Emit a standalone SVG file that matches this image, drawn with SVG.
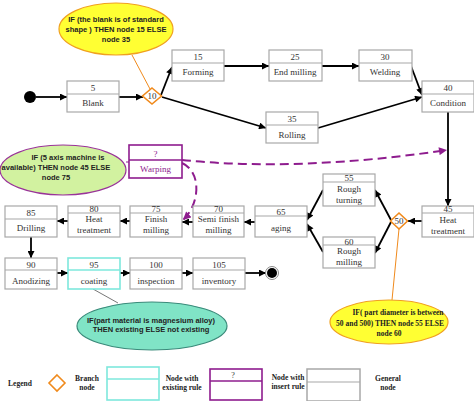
<svg xmlns="http://www.w3.org/2000/svg" width="474" height="401" viewBox="0 0 474 401">
<defs>
<marker id="ah" viewBox="0 0 10 10" refX="10" refY="5" markerWidth="8" markerHeight="7" markerUnits="userSpaceOnUse" orient="auto"><path d="M0,0 L10,5 L0,10 z" fill="#000"/></marker>
<marker id="ahp" viewBox="0 0 10 10" refX="10" refY="5" markerWidth="9" markerHeight="8" markerUnits="userSpaceOnUse" orient="auto"><path d="M0,0 L10,5 L0,10 z" fill="#8e1c8e"/></marker>
</defs>
<style>
.box{fill:#fff;stroke:#a8a8a8;stroke-width:1.2}
.div{stroke:#a8a8a8;stroke-width:1.2}
.cy{fill:#fff;stroke:#7ee8dc;stroke-width:1.6}
.cyd{stroke:#7ee8dc;stroke-width:1.6}
.pu{fill:#fff;stroke:#8e1c8e;stroke-width:1.6}
.pud{stroke:#8e1c8e;stroke-width:1.6}
.t{font-family:"Liberation Serif",serif;font-size:9px;fill:#333;text-anchor:middle}
.tp{font-family:"Liberation Serif",serif;font-size:9px;fill:#8e1c8e;text-anchor:middle}
.e{font-family:"Liberation Sans",sans-serif;font-size:7.5px;font-weight:bold;fill:#222;text-anchor:middle}
.es{font-family:"Liberation Serif",serif;font-size:7.5px;font-weight:bold;fill:#222;text-anchor:middle}
.lg{font-family:"Liberation Serif",serif;font-size:7.5px;font-weight:bold;fill:#222;text-anchor:middle}
.dia{fill:#fff;stroke:#f08a1c;stroke-width:1.6}
.c{stroke:#000;stroke-width:1.8;fill:none;marker-end:url(#ah)}
.d{stroke:#8e1c8e;stroke-width:2;fill:none;stroke-dasharray:9,5;marker-end:url(#ahp)}
</style>
<rect width="474" height="401" fill="#fff"/>

<g id="callout-lines">
<line x1="132" y1="55" x2="150" y2="89" stroke="#f08a1c" stroke-width="1"/>
<line x1="399" y1="229" x2="392" y2="300" stroke="#f08a1c" stroke-width="1"/>
<line x1="93" y1="289" x2="118" y2="303" stroke="#777" stroke-width="1"/>
<line x1="126" y1="162" x2="130" y2="162" stroke="#8e1c8e" stroke-width="1"/>
</g>

<g id="note-top">
<ellipse cx="116" cy="29" rx="57" ry="26" fill="#ffff33" stroke="#f0a020" stroke-width="1.2"/>
<text class="e" x="116" y="22">IF (the blank is of standard</text>
<text class="e" x="116" y="32">shape ) THEN node 15  ELSE</text>
<text class="e" x="116" y="42">node 35</text>
</g>
<g id="note-green">
<ellipse cx="63" cy="170" rx="63" ry="25" fill="#d2f2a0" stroke="#993399" stroke-width="1.2"/>
<text class="e" x="68" y="160">IF (5 axis machine is</text>
<text class="e" x="56" y="170">available) THEN node 45 ELSE</text>
<text class="e" x="56" y="180">node 75</text>
</g>
<g id="note-cyan">
<ellipse cx="152" cy="326" rx="75" ry="24" fill="#80e4c6" stroke="#3a8a7a" stroke-width="1.2"/>
<text class="e" x="151" y="323">IF(part material is magnesium alloy)</text>
<text class="e" x="151" y="332">THEN existing ELSE not existing</text>
</g>
<g id="note-bottom">
<ellipse cx="389" cy="322" rx="59" ry="22" fill="#ffff33" stroke="#f0a020" stroke-width="1.2"/>
<text class="es" x="398" y="315">IF( part diameter is between</text>
<text class="es" x="390" y="326">50 and 500) THEN node 55 ELSE</text>
<text class="es" x="389" y="336">node 60</text>
</g>

<g id="connectors">
<path class="c" d="M36,97 L67,97"/>
<path class="c" d="M119,97 L143,97"/>
<path class="c" d="M161,95 L172,67"/>
<path class="c" d="M162,97 L266,128"/>
<path class="c" d="M224,66 L269,66"/>
<path class="c" d="M322,66 L359,66"/>
<path class="c" d="M411,66 L422,95"/>
<path class="c" d="M318,128 L422,97"/>
<path class="c" d="M448,112 L448,206"/>
<path class="c" d="M422,221 L408,221"/>
<path class="c" d="M391,220 L375,190"/>
<path class="c" d="M391,222 L375,253"/>
<path class="c" d="M323,190 L307,220"/>
<path class="c" d="M323,252 L307,224"/>
<path class="c" d="M255,222 L244,222"/>
<path class="c" d="M193,222 L182,222"/>
<path class="c" d="M130,221 L120,221"/>
<path class="c" d="M68,221 L57,221"/>
<path class="c" d="M31,237 L31,258"/>
<path class="c" d="M57,273 L68,273"/>
<path class="c" d="M120,273 L130,273"/>
<path class="c" d="M182,273 L193,273"/>
<path class="c" d="M245,273 L266,273"/>
<path class="d" d="M182,160 Q300,172 447,150"/>
<path class="d" d="M182,163 C202,172 200,204 183,220"/>
</g>

<g id="start"><circle cx="30" cy="97" r="6" fill="#000"/></g>
<g id="end"><circle cx="272" cy="273" r="6.5" fill="#fff" stroke="#888" stroke-width="1"/><circle cx="272" cy="273" r="5" fill="#000"/></g>

<g id="n5"><rect class="box" x="67" y="81" width="52" height="31"/><line class="div" x1="67" y1="94" x2="119" y2="94"/><text class="t" x="93" y="91">5</text><text class="t" x="93" y="106">Blank</text></g>
<g id="n10"><polygon class="dia" points="152,88 161.5,96 152,104 142.5,96"/><text class="t" x="152" y="99">10</text></g>
<g id="n15"><rect class="box" x="172" y="50" width="52" height="31"/><line class="div" x1="172" y1="63" x2="224" y2="63"/><text class="t" x="198" y="60">15</text><text class="t" x="198" y="75">Forming</text></g>
<g id="n25"><rect class="box" x="269" y="50" width="53" height="31"/><line class="div" x1="269" y1="63" x2="322" y2="63"/><text class="t" x="295" y="60">25</text><text class="t" x="295" y="75">End milling</text></g>
<g id="n30"><rect class="box" x="359" y="50" width="53" height="31"/><line class="div" x1="359" y1="63" x2="412" y2="63"/><text class="t" x="385" y="60">30</text><text class="t" x="385" y="75">Welding</text></g>
<g id="n35"><rect class="box" x="266" y="112" width="52" height="31"/><line class="div" x1="266" y1="125" x2="318" y2="125"/><text class="t" x="292" y="122">35</text><text class="t" x="292" y="138">Rolling</text></g>
<g id="n40"><rect class="box" x="422" y="81" width="52" height="31"/><line class="div" x1="422" y1="94" x2="474" y2="94"/><text class="t" x="448" y="91">40</text><text class="t" x="448" y="106">Condition</text></g>
<g id="n45"><rect class="box" x="422" y="206" width="52" height="31"/><line class="div" x1="422" y1="213" x2="474" y2="213"/><text class="t" x="448" y="212">45</text><text class="t" x="448" y="223">Heat</text><text class="t" x="448" y="234">treatment</text></g>
<g id="n50"><polygon class="dia" points="399,213 407.5,221 399,229 390.5,221"/><text class="t" x="399" y="224">50</text></g>
<g id="n55"><rect class="box" x="323" y="174" width="52" height="32"/><line class="div" x1="323" y1="182" x2="375" y2="182"/><text class="t" x="349" y="181">55</text><text class="t" x="349" y="192">Rough</text><text class="t" x="349" y="203">turning</text></g>
<g id="n60"><rect class="box" x="323" y="237" width="52" height="31"/><line class="div" x1="323" y1="245" x2="375" y2="245"/><text class="t" x="349" y="245">60</text><text class="t" x="349" y="254">Rough</text><text class="t" x="349" y="265">milling</text></g>
<g id="n65"><rect class="box" x="255" y="206" width="52" height="31"/><line class="div" x1="255" y1="216" x2="307" y2="216"/><text class="t" x="281" y="215">65</text><text class="t" x="281" y="231">aging</text></g>
<g id="n70"><rect class="box" x="193" y="206" width="51" height="31"/><line class="div" x1="193" y1="213" x2="244" y2="213"/><text class="t" x="218.5" y="212">70</text><text class="t" x="218.5" y="222">Semi finish</text><text class="t" x="218.5" y="233">milling</text></g>
<g id="n75"><rect class="box" x="130" y="206" width="52" height="31"/><line class="div" x1="130" y1="213" x2="182" y2="213"/><text class="t" x="156" y="212">75</text><text class="t" x="156" y="222">Finish</text><text class="t" x="156" y="233">milling</text></g>
<g id="n80"><rect class="box" x="68" y="206" width="52" height="31"/><line class="div" x1="68" y1="213" x2="120" y2="213"/><text class="t" x="94" y="212">80</text><text class="t" x="94" y="222">Heat</text><text class="t" x="94" y="233">treatment</text></g>
<g id="n85"><rect class="box" x="5" y="206" width="52" height="31"/><line class="div" x1="5" y1="219" x2="57" y2="219"/><text class="t" x="31" y="216">85</text><text class="t" x="31" y="231">Drilling</text></g>
<g id="n90"><rect class="box" x="5" y="258" width="52" height="31"/><line class="div" x1="5" y1="270" x2="57" y2="270"/><text class="t" x="31" y="268">90</text><text class="t" x="31" y="284">Anodizing</text></g>
<g id="n95"><rect class="cy" x="68" y="258" width="52" height="31"/><line class="cyd" x1="68" y1="270" x2="120" y2="270"/><text class="t" x="94" y="268">95</text><text class="t" x="94" y="284">coating</text></g>
<g id="n100"><rect class="box" x="130" y="258" width="52" height="31"/><line class="div" x1="130" y1="270" x2="182" y2="270"/><text class="t" x="156" y="268">100</text><text class="t" x="156" y="284">inspection</text></g>
<g id="n105"><rect class="box" x="193" y="258" width="52" height="31"/><line class="div" x1="193" y1="270" x2="245" y2="270"/><text class="t" x="219" y="268">105</text><text class="t" x="219" y="284">inventory</text></g>
<g id="warping"><rect class="pu" x="129" y="145" width="53" height="33"/><line class="pud" x1="129" y1="160" x2="182" y2="160"/><text class="tp" x="155.5" y="157">?</text><text class="tp" x="155.5" y="172">Warping</text></g>

<g id="legend">
<text class="lg" x="20" y="386">Legend</text>
<polygon class="dia" points="57,375 65,383 57,391 49,383"/>
<text class="lg" x="87" y="381">Branch</text><text class="lg" x="87" y="390">node</text>
<rect class="cy" x="107" y="367" width="52" height="33"/><line class="cyd" x1="107" y1="379" x2="159" y2="379"/>
<text class="lg" x="182" y="381">Node with</text><text class="lg" x="182" y="390">existing rule</text>
<rect class="pu" x="210" y="369" width="52" height="31"/><line class="pud" x1="210" y1="381" x2="262" y2="381"/><text class="t" x="233" y="378" style="font-size:8px">?</text>
<text class="lg" x="288" y="380">Node with</text><text class="lg" x="288" y="389">insert rule</text>
<rect class="box" x="307" y="369" width="53" height="32" style="stroke-width:1.5"/><line class="div" x1="307" y1="382" x2="360" y2="382"/>
<text class="lg" x="388" y="381">General</text><text class="lg" x="388" y="390">node</text>
</g>
</svg>
